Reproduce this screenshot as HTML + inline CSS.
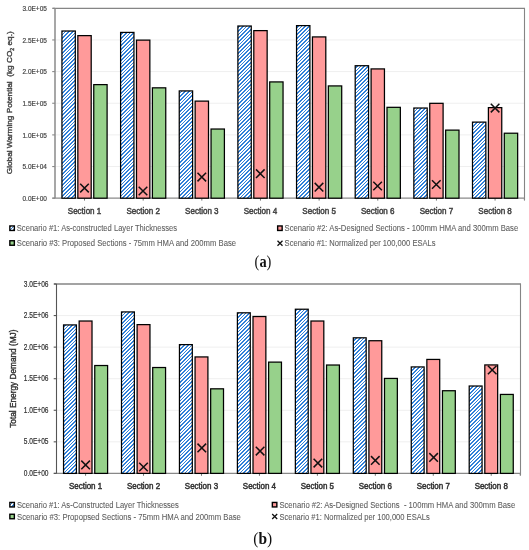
<!DOCTYPE html>
<html><head><meta charset="utf-8"><title>Figure</title>
<style>html,body{margin:0;padding:0;background:#fff;} svg{display:block;} text{font-family:"Liberation Sans", Arial, sans-serif;}</style>
</head><body>
<svg width="529" height="550" viewBox="0 0 529 550">
<defs><pattern id="hatch" x="0" y="0" width="11" height="11" patternUnits="userSpaceOnUse"><rect width="11" height="11" fill="#fff"/><path d="M0,0h1v1h-1zM1,0h1v1h-1zM4,0h1v1h-1zM5,0h1v1h-1zM8,0h1v1h-1zM0,1h1v1h-1zM3,1h1v1h-1zM4,1h1v1h-1zM7,1h1v1h-1zM10,1h1v1h-1zM2,2h1v1h-1zM3,2h1v1h-1zM6,2h1v1h-1zM9,2h1v1h-1zM10,2h1v1h-1zM1,3h1v1h-1zM2,3h1v1h-1zM5,3h1v1h-1zM8,3h1v1h-1zM9,3h1v1h-1zM0,4h1v1h-1zM1,4h1v1h-1zM4,4h1v1h-1zM7,4h1v1h-1zM8,4h1v1h-1zM0,5h1v1h-1zM3,5h1v1h-1zM6,5h1v1h-1zM7,5h1v1h-1zM10,5h1v1h-1zM2,6h1v1h-1zM5,6h1v1h-1zM6,6h1v1h-1zM9,6h1v1h-1zM10,6h1v1h-1zM1,7h1v1h-1zM4,7h1v1h-1zM5,7h1v1h-1zM8,7h1v1h-1zM9,7h1v1h-1zM0,8h1v1h-1zM3,8h1v1h-1zM4,8h1v1h-1zM7,8h1v1h-1zM8,8h1v1h-1zM2,9h1v1h-1zM3,9h1v1h-1zM6,9h1v1h-1zM7,9h1v1h-1zM10,9h1v1h-1zM1,10h1v1h-1zM2,10h1v1h-1zM5,10h1v1h-1zM6,10h1v1h-1zM9,10h1v1h-1z" fill="#3181da" shape-rendering="crispEdges"/></pattern></defs>
<rect width="529" height="550" fill="#fff"/>
<line x1="55.20" y1="39.95" x2="524.40" y2="39.95" stroke="#efefef" stroke-width="1"/>
<line x1="55.20" y1="71.60" x2="524.40" y2="71.60" stroke="#efefef" stroke-width="1"/>
<line x1="55.20" y1="103.25" x2="524.40" y2="103.25" stroke="#efefef" stroke-width="1"/>
<line x1="55.20" y1="134.90" x2="524.40" y2="134.90" stroke="#efefef" stroke-width="1"/>
<line x1="55.20" y1="166.55" x2="524.40" y2="166.55" stroke="#efefef" stroke-width="1"/>
<line x1="52.70" y1="8.30" x2="525.00" y2="8.30" stroke="#858585" stroke-width="1.3"/>
<line x1="524.50" y1="8.30" x2="524.50" y2="200.40" stroke="#858585" stroke-width="1.1"/>
<line x1="52.40" y1="198.20" x2="524.40" y2="198.20" stroke="#8a8a8a" stroke-width="1.3"/>
<line x1="84.53" y1="198.20" x2="84.53" y2="200.60" stroke="#666" stroke-width="0.9"/>
<line x1="143.18" y1="198.20" x2="143.18" y2="200.60" stroke="#666" stroke-width="0.9"/>
<line x1="201.82" y1="198.20" x2="201.82" y2="200.60" stroke="#666" stroke-width="0.9"/>
<line x1="260.48" y1="198.20" x2="260.48" y2="200.60" stroke="#666" stroke-width="0.9"/>
<line x1="319.12" y1="198.20" x2="319.12" y2="200.60" stroke="#666" stroke-width="0.9"/>
<line x1="377.77" y1="198.20" x2="377.77" y2="200.60" stroke="#666" stroke-width="0.9"/>
<line x1="436.42" y1="198.20" x2="436.42" y2="200.60" stroke="#666" stroke-width="0.9"/>
<line x1="495.07" y1="198.20" x2="495.07" y2="200.60" stroke="#666" stroke-width="0.9"/>
<line x1="524.40" y1="198.20" x2="524.40" y2="200.40" stroke="#858585" stroke-width="1"/>
<rect x="61.95" y="31.02" width="13.35" height="167.17" fill="url(#hatch)" stroke="#000" stroke-width="1.25"/>
<rect x="77.85" y="35.62" width="13.35" height="162.57" fill="#ff9a9a" stroke="#000" stroke-width="1.25"/>
<rect x="93.75" y="84.62" width="13.35" height="113.57" fill="#97d18b" stroke="#000" stroke-width="1.25"/>
<rect x="120.60" y="32.42" width="13.35" height="165.77" fill="url(#hatch)" stroke="#000" stroke-width="1.25"/>
<rect x="136.50" y="40.12" width="13.35" height="158.07" fill="#ff9a9a" stroke="#000" stroke-width="1.25"/>
<rect x="152.40" y="87.83" width="13.35" height="110.37" fill="#97d18b" stroke="#000" stroke-width="1.25"/>
<rect x="179.25" y="90.92" width="13.35" height="107.27" fill="url(#hatch)" stroke="#000" stroke-width="1.25"/>
<rect x="195.15" y="101.12" width="13.35" height="97.07" fill="#ff9a9a" stroke="#000" stroke-width="1.25"/>
<rect x="211.05" y="129.03" width="13.35" height="69.17" fill="#97d18b" stroke="#000" stroke-width="1.25"/>
<rect x="237.90" y="26.02" width="13.35" height="172.17" fill="url(#hatch)" stroke="#000" stroke-width="1.25"/>
<rect x="253.80" y="30.62" width="13.35" height="167.57" fill="#ff9a9a" stroke="#000" stroke-width="1.25"/>
<rect x="269.70" y="81.92" width="13.35" height="116.27" fill="#97d18b" stroke="#000" stroke-width="1.25"/>
<rect x="296.55" y="25.62" width="13.35" height="172.57" fill="url(#hatch)" stroke="#000" stroke-width="1.25"/>
<rect x="312.45" y="36.92" width="13.35" height="161.27" fill="#ff9a9a" stroke="#000" stroke-width="1.25"/>
<rect x="328.35" y="85.92" width="13.35" height="112.27" fill="#97d18b" stroke="#000" stroke-width="1.25"/>
<rect x="355.20" y="65.72" width="13.35" height="132.47" fill="url(#hatch)" stroke="#000" stroke-width="1.25"/>
<rect x="371.10" y="68.92" width="13.35" height="129.27" fill="#ff9a9a" stroke="#000" stroke-width="1.25"/>
<rect x="387.00" y="107.33" width="13.35" height="90.87" fill="#97d18b" stroke="#000" stroke-width="1.25"/>
<rect x="413.85" y="108.03" width="13.35" height="90.17" fill="url(#hatch)" stroke="#000" stroke-width="1.25"/>
<rect x="429.75" y="103.33" width="13.35" height="94.87" fill="#ff9a9a" stroke="#000" stroke-width="1.25"/>
<rect x="445.65" y="130.12" width="13.35" height="68.07" fill="#97d18b" stroke="#000" stroke-width="1.25"/>
<rect x="472.50" y="122.12" width="13.35" height="76.07" fill="url(#hatch)" stroke="#000" stroke-width="1.25"/>
<rect x="488.40" y="107.62" width="13.35" height="90.57" fill="#ff9a9a" stroke="#000" stroke-width="1.25"/>
<rect x="504.30" y="133.22" width="13.35" height="64.97" fill="#97d18b" stroke="#000" stroke-width="1.25"/>
<path d="M80.20,183.80L88.80,192.40M80.20,192.40L88.80,183.80" stroke="#111" stroke-width="1.5" fill="none"/>
<path d="M138.70,186.70L147.30,195.30M138.70,195.30L147.30,186.70" stroke="#111" stroke-width="1.5" fill="none"/>
<path d="M197.50,172.80L206.10,181.40M197.50,181.40L206.10,172.80" stroke="#111" stroke-width="1.5" fill="none"/>
<path d="M256.00,169.40L264.60,178.00M256.00,178.00L264.60,169.40" stroke="#111" stroke-width="1.5" fill="none"/>
<path d="M314.70,182.90L323.30,191.50M314.70,191.50L323.30,182.90" stroke="#111" stroke-width="1.5" fill="none"/>
<path d="M373.30,181.70L381.90,190.30M373.30,190.30L381.90,181.70" stroke="#111" stroke-width="1.5" fill="none"/>
<path d="M432.00,180.20L440.60,188.80M432.00,188.80L440.60,180.20" stroke="#111" stroke-width="1.5" fill="none"/>
<path d="M490.80,103.80L499.40,112.40M490.80,112.40L499.40,103.80" stroke="#111" stroke-width="1.5" fill="none"/>
<line x1="55.00" y1="8.30" x2="55.00" y2="198.20" stroke="#8a8a8a" stroke-width="1.5"/>
<line x1="52.20" y1="8.30" x2="55.00" y2="8.30" stroke="#8a8a8a" stroke-width="1.1"/>
<line x1="52.20" y1="39.95" x2="55.00" y2="39.95" stroke="#8a8a8a" stroke-width="1.1"/>
<line x1="52.20" y1="71.60" x2="55.00" y2="71.60" stroke="#8a8a8a" stroke-width="1.1"/>
<line x1="52.20" y1="103.25" x2="55.00" y2="103.25" stroke="#8a8a8a" stroke-width="1.1"/>
<line x1="52.20" y1="134.90" x2="55.00" y2="134.90" stroke="#8a8a8a" stroke-width="1.1"/>
<line x1="52.20" y1="166.55" x2="55.00" y2="166.55" stroke="#8a8a8a" stroke-width="1.1"/>
<line x1="52.20" y1="198.20" x2="55.00" y2="198.20" stroke="#8a8a8a" stroke-width="1.1"/>
<text x="46.90" y="10.90" text-anchor="end" font-size="7.9" fill="#444" stroke="#444" stroke-width="0.2" textLength="24.40" lengthAdjust="spacingAndGlyphs">3.0E+05</text>
<text x="46.90" y="42.55" text-anchor="end" font-size="7.9" fill="#444" stroke="#444" stroke-width="0.2" textLength="24.40" lengthAdjust="spacingAndGlyphs">2.5E+05</text>
<text x="46.90" y="74.20" text-anchor="end" font-size="7.9" fill="#444" stroke="#444" stroke-width="0.2" textLength="24.40" lengthAdjust="spacingAndGlyphs">2.0E+05</text>
<text x="46.90" y="105.85" text-anchor="end" font-size="7.9" fill="#444" stroke="#444" stroke-width="0.2" textLength="24.40" lengthAdjust="spacingAndGlyphs">1.5E+05</text>
<text x="46.90" y="137.50" text-anchor="end" font-size="7.9" fill="#444" stroke="#444" stroke-width="0.2" textLength="24.40" lengthAdjust="spacingAndGlyphs">1.0E+05</text>
<text x="46.90" y="169.15" text-anchor="end" font-size="7.9" fill="#444" stroke="#444" stroke-width="0.2" textLength="24.40" lengthAdjust="spacingAndGlyphs">5.0E+04</text>
<text x="46.90" y="200.80" text-anchor="end" font-size="7.9" fill="#444" stroke="#444" stroke-width="0.2" textLength="24.40" lengthAdjust="spacingAndGlyphs">0.0E+00</text>
<text x="84.53" y="213.50" text-anchor="middle" font-size="9.0" fill="#444" stroke="#444" stroke-width="0.5" textLength="33.50" lengthAdjust="spacingAndGlyphs">Section 1</text>
<text x="143.18" y="213.50" text-anchor="middle" font-size="9.0" fill="#444" stroke="#444" stroke-width="0.5" textLength="33.50" lengthAdjust="spacingAndGlyphs">Section 2</text>
<text x="201.82" y="213.50" text-anchor="middle" font-size="9.0" fill="#444" stroke="#444" stroke-width="0.5" textLength="33.50" lengthAdjust="spacingAndGlyphs">Section 3</text>
<text x="260.48" y="213.50" text-anchor="middle" font-size="9.0" fill="#444" stroke="#444" stroke-width="0.5" textLength="33.50" lengthAdjust="spacingAndGlyphs">Section 4</text>
<text x="319.12" y="213.50" text-anchor="middle" font-size="9.0" fill="#444" stroke="#444" stroke-width="0.5" textLength="33.50" lengthAdjust="spacingAndGlyphs">Section 5</text>
<text x="377.77" y="213.50" text-anchor="middle" font-size="9.0" fill="#444" stroke="#444" stroke-width="0.5" textLength="33.50" lengthAdjust="spacingAndGlyphs">Section 6</text>
<text x="436.42" y="213.50" text-anchor="middle" font-size="9.0" fill="#444" stroke="#444" stroke-width="0.5" textLength="33.50" lengthAdjust="spacingAndGlyphs">Section 7</text>
<text x="495.07" y="213.50" text-anchor="middle" font-size="9.0" fill="#444" stroke="#444" stroke-width="0.5" textLength="33.50" lengthAdjust="spacingAndGlyphs">Section 8</text>
<text transform="translate(12.20,174.20) rotate(-90)" x="0" y="0" font-size="8.1" fill="#444" stroke="#444" stroke-width="0.38" textLength="142.90" lengthAdjust="spacingAndGlyphs">Global Warming Potential &#160;(kg CO<tspan font-size="5.2" dy="1.6">2</tspan><tspan dy="-1.6"> eq.)</tspan></text>
<rect x="9.85" y="225.95" width="4.5" height="4.5" fill="url(#hatch)" stroke="#000" stroke-width="1.4"/>
<text x="16.80" y="231.40" font-size="8.6" fill="#5e5e5e" stroke="#5e5e5e" stroke-width="0.08" textLength="160.30" lengthAdjust="spacingAndGlyphs">Scenario #1: As-constructed Layer Thicknesses</text>
<rect x="9.85" y="240.75" width="4.5" height="4.5" fill="#97d18b" stroke="#000" stroke-width="1.4"/>
<text x="16.80" y="246.10" font-size="8.6" fill="#5e5e5e" stroke="#5e5e5e" stroke-width="0.08" textLength="219.30" lengthAdjust="spacingAndGlyphs">Scenario #3: Proposed Sections - 75mm HMA and 200mm Base</text>
<rect x="277.65" y="225.95" width="4.5" height="4.5" fill="#ff9a9a" stroke="#000" stroke-width="1.4"/>
<text x="284.60" y="231.40" font-size="8.6" fill="#5e5e5e" stroke="#5e5e5e" stroke-width="0.08" textLength="233.60" lengthAdjust="spacingAndGlyphs">Scenario #2: As-Designed Sections - 100mm HMA and 300mm Base</text>
<path d="M277.50,240.70L282.50,245.70M277.50,245.70L282.50,240.70" stroke="#111" stroke-width="1.3" fill="none"/>
<text x="284.60" y="246.10" font-size="8.6" fill="#5e5e5e" stroke="#5e5e5e" stroke-width="0.08" textLength="151.00" lengthAdjust="spacingAndGlyphs">Scenario #1: Normalized per 100,000 ESALs</text>
<line x1="56.60" y1="315.57" x2="520.20" y2="315.57" stroke="#efefef" stroke-width="1"/>
<line x1="56.60" y1="347.13" x2="520.20" y2="347.13" stroke="#efefef" stroke-width="1"/>
<line x1="56.60" y1="378.70" x2="520.20" y2="378.70" stroke="#efefef" stroke-width="1"/>
<line x1="56.60" y1="410.27" x2="520.20" y2="410.27" stroke="#efefef" stroke-width="1"/>
<line x1="56.60" y1="441.83" x2="520.20" y2="441.83" stroke="#efefef" stroke-width="1"/>
<line x1="54.10" y1="284.00" x2="521.00" y2="284.00" stroke="#858585" stroke-width="1.3"/>
<line x1="520.50" y1="284.00" x2="520.50" y2="475.60" stroke="#858585" stroke-width="1.1"/>
<line x1="53.80" y1="473.40" x2="520.20" y2="473.40" stroke="#888" stroke-width="1.3"/>
<line x1="85.58" y1="473.40" x2="85.58" y2="475.80" stroke="#666" stroke-width="0.9"/>
<line x1="143.53" y1="473.40" x2="143.53" y2="475.80" stroke="#666" stroke-width="0.9"/>
<line x1="201.47" y1="473.40" x2="201.47" y2="475.80" stroke="#666" stroke-width="0.9"/>
<line x1="259.43" y1="473.40" x2="259.43" y2="475.80" stroke="#666" stroke-width="0.9"/>
<line x1="317.38" y1="473.40" x2="317.38" y2="475.80" stroke="#666" stroke-width="0.9"/>
<line x1="375.33" y1="473.40" x2="375.33" y2="475.80" stroke="#666" stroke-width="0.9"/>
<line x1="433.28" y1="473.40" x2="433.28" y2="475.80" stroke="#666" stroke-width="0.9"/>
<line x1="491.23" y1="473.40" x2="491.23" y2="475.80" stroke="#666" stroke-width="0.9"/>
<line x1="520.20" y1="473.40" x2="520.20" y2="475.60" stroke="#858585" stroke-width="1"/>
<rect x="63.55" y="324.93" width="12.85" height="148.47" fill="url(#hatch)" stroke="#000" stroke-width="1.25"/>
<rect x="79.16" y="321.02" width="12.85" height="152.38" fill="#ff9a9a" stroke="#000" stroke-width="1.25"/>
<rect x="94.75" y="365.52" width="12.85" height="107.88" fill="#97d18b" stroke="#000" stroke-width="1.25"/>
<rect x="121.51" y="311.93" width="12.85" height="161.47" fill="url(#hatch)" stroke="#000" stroke-width="1.25"/>
<rect x="137.11" y="324.62" width="12.85" height="148.77" fill="#ff9a9a" stroke="#000" stroke-width="1.25"/>
<rect x="152.71" y="367.52" width="12.85" height="105.88" fill="#97d18b" stroke="#000" stroke-width="1.25"/>
<rect x="179.46" y="344.62" width="12.85" height="128.77" fill="url(#hatch)" stroke="#000" stroke-width="1.25"/>
<rect x="195.06" y="356.93" width="12.85" height="116.47" fill="#ff9a9a" stroke="#000" stroke-width="1.25"/>
<rect x="210.66" y="388.82" width="12.85" height="84.57" fill="#97d18b" stroke="#000" stroke-width="1.25"/>
<rect x="237.41" y="312.82" width="12.85" height="160.57" fill="url(#hatch)" stroke="#000" stroke-width="1.25"/>
<rect x="253.01" y="316.52" width="12.85" height="156.88" fill="#ff9a9a" stroke="#000" stroke-width="1.25"/>
<rect x="268.61" y="362.12" width="12.85" height="111.27" fill="#97d18b" stroke="#000" stroke-width="1.25"/>
<rect x="295.36" y="309.23" width="12.85" height="164.17" fill="url(#hatch)" stroke="#000" stroke-width="1.25"/>
<rect x="310.96" y="321.02" width="12.85" height="152.38" fill="#ff9a9a" stroke="#000" stroke-width="1.25"/>
<rect x="326.56" y="365.02" width="12.85" height="108.38" fill="#97d18b" stroke="#000" stroke-width="1.25"/>
<rect x="353.31" y="337.82" width="12.85" height="135.57" fill="url(#hatch)" stroke="#000" stroke-width="1.25"/>
<rect x="368.91" y="340.73" width="12.85" height="132.67" fill="#ff9a9a" stroke="#000" stroke-width="1.25"/>
<rect x="384.50" y="378.43" width="12.85" height="94.97" fill="#97d18b" stroke="#000" stroke-width="1.25"/>
<rect x="411.26" y="366.93" width="12.85" height="106.47" fill="url(#hatch)" stroke="#000" stroke-width="1.25"/>
<rect x="426.86" y="359.43" width="12.85" height="113.97" fill="#ff9a9a" stroke="#000" stroke-width="1.25"/>
<rect x="442.46" y="390.73" width="12.85" height="82.67" fill="#97d18b" stroke="#000" stroke-width="1.25"/>
<rect x="469.21" y="386.02" width="12.85" height="87.38" fill="url(#hatch)" stroke="#000" stroke-width="1.25"/>
<rect x="484.81" y="364.93" width="12.85" height="108.47" fill="#ff9a9a" stroke="#000" stroke-width="1.25"/>
<rect x="500.41" y="394.43" width="12.85" height="78.97" fill="#97d18b" stroke="#000" stroke-width="1.25"/>
<path d="M81.30,460.60L89.90,469.20M81.30,469.20L89.90,460.60" stroke="#111" stroke-width="1.5" fill="none"/>
<path d="M139.20,462.70L147.80,471.30M139.20,471.30L147.80,462.70" stroke="#111" stroke-width="1.5" fill="none"/>
<path d="M197.50,443.60L206.10,452.20M197.50,452.20L206.10,443.60" stroke="#111" stroke-width="1.5" fill="none"/>
<path d="M255.80,446.80L264.40,455.40M255.80,455.40L264.40,446.80" stroke="#111" stroke-width="1.5" fill="none"/>
<path d="M313.60,458.80L322.20,467.40M313.60,467.40L322.20,458.80" stroke="#111" stroke-width="1.5" fill="none"/>
<path d="M371.00,456.10L379.60,464.70M371.00,464.70L379.60,456.10" stroke="#111" stroke-width="1.5" fill="none"/>
<path d="M429.30,453.10L437.90,461.70M429.30,461.70L437.90,453.10" stroke="#111" stroke-width="1.5" fill="none"/>
<path d="M487.90,365.70L496.50,374.30M487.90,374.30L496.50,365.70" stroke="#111" stroke-width="1.5" fill="none"/>
<line x1="56.50" y1="284.00" x2="56.50" y2="473.40" stroke="#555" stroke-width="1.1"/>
<line x1="53.70" y1="284.00" x2="56.50" y2="284.00" stroke="#555" stroke-width="1.1"/>
<line x1="53.70" y1="315.57" x2="56.50" y2="315.57" stroke="#555" stroke-width="1.1"/>
<line x1="53.70" y1="347.13" x2="56.50" y2="347.13" stroke="#555" stroke-width="1.1"/>
<line x1="53.70" y1="378.70" x2="56.50" y2="378.70" stroke="#555" stroke-width="1.1"/>
<line x1="53.70" y1="410.27" x2="56.50" y2="410.27" stroke="#555" stroke-width="1.1"/>
<line x1="53.70" y1="441.83" x2="56.50" y2="441.83" stroke="#555" stroke-width="1.1"/>
<line x1="53.70" y1="473.40" x2="56.50" y2="473.40" stroke="#555" stroke-width="1.1"/>
<text x="48.50" y="286.50" text-anchor="end" font-size="8.2" fill="#333" stroke="#333" stroke-width="0.2" textLength="24.70" lengthAdjust="spacingAndGlyphs">3.0E+06</text>
<text x="48.50" y="318.07" text-anchor="end" font-size="8.2" fill="#333" stroke="#333" stroke-width="0.2" textLength="24.70" lengthAdjust="spacingAndGlyphs">2.5E+06</text>
<text x="48.50" y="349.63" text-anchor="end" font-size="8.2" fill="#333" stroke="#333" stroke-width="0.2" textLength="24.70" lengthAdjust="spacingAndGlyphs">2.0E+06</text>
<text x="48.50" y="381.20" text-anchor="end" font-size="8.2" fill="#333" stroke="#333" stroke-width="0.2" textLength="24.70" lengthAdjust="spacingAndGlyphs">1.5E+06</text>
<text x="48.50" y="412.77" text-anchor="end" font-size="8.2" fill="#333" stroke="#333" stroke-width="0.2" textLength="24.70" lengthAdjust="spacingAndGlyphs">1.0E+06</text>
<text x="48.50" y="444.33" text-anchor="end" font-size="8.2" fill="#333" stroke="#333" stroke-width="0.2" textLength="24.70" lengthAdjust="spacingAndGlyphs">5.0E+05</text>
<text x="48.50" y="475.90" text-anchor="end" font-size="8.2" fill="#333" stroke="#333" stroke-width="0.2" textLength="24.70" lengthAdjust="spacingAndGlyphs">0.0E+00</text>
<text x="85.58" y="489.10" text-anchor="middle" font-size="9.0" fill="#333" stroke="#333" stroke-width="0.5" textLength="33.20" lengthAdjust="spacingAndGlyphs">Section 1</text>
<text x="143.53" y="489.10" text-anchor="middle" font-size="9.0" fill="#333" stroke="#333" stroke-width="0.5" textLength="33.20" lengthAdjust="spacingAndGlyphs">Section 2</text>
<text x="201.47" y="489.10" text-anchor="middle" font-size="9.0" fill="#333" stroke="#333" stroke-width="0.5" textLength="33.20" lengthAdjust="spacingAndGlyphs">Section 3</text>
<text x="259.43" y="489.10" text-anchor="middle" font-size="9.0" fill="#333" stroke="#333" stroke-width="0.5" textLength="33.20" lengthAdjust="spacingAndGlyphs">Section 4</text>
<text x="317.38" y="489.10" text-anchor="middle" font-size="9.0" fill="#333" stroke="#333" stroke-width="0.5" textLength="33.20" lengthAdjust="spacingAndGlyphs">Section 5</text>
<text x="375.33" y="489.10" text-anchor="middle" font-size="9.0" fill="#333" stroke="#333" stroke-width="0.5" textLength="33.20" lengthAdjust="spacingAndGlyphs">Section 6</text>
<text x="433.28" y="489.10" text-anchor="middle" font-size="9.0" fill="#333" stroke="#333" stroke-width="0.5" textLength="33.20" lengthAdjust="spacingAndGlyphs">Section 7</text>
<text x="491.23" y="489.10" text-anchor="middle" font-size="9.0" fill="#333" stroke="#333" stroke-width="0.5" textLength="33.20" lengthAdjust="spacingAndGlyphs">Section 8</text>
<text transform="translate(16.40,427.80) rotate(-90)" x="0" y="0" font-size="8.3" fill="#333" stroke="#333" stroke-width="0.38" textLength="98.30" lengthAdjust="spacingAndGlyphs">Total Energy Demand (MJ)</text>
<rect x="9.85" y="502.45" width="4.5" height="4.5" fill="url(#hatch)" stroke="#000" stroke-width="1.4"/>
<text x="17.00" y="507.90" font-size="8.9" fill="#5e5e5e" stroke="#5e5e5e" stroke-width="0.08" textLength="161.80" lengthAdjust="spacingAndGlyphs">Scenario #1: As-Constructed Layer Thicknesses</text>
<rect x="9.85" y="514.25" width="4.5" height="4.5" fill="#97d18b" stroke="#000" stroke-width="1.4"/>
<text x="17.00" y="519.70" font-size="8.9" fill="#5e5e5e" stroke="#5e5e5e" stroke-width="0.08" textLength="223.90" lengthAdjust="spacingAndGlyphs">Scenario #3: Propopsed Sections - 75mm HMA and 200mm Base</text>
<rect x="272.35" y="502.45" width="4.5" height="4.5" fill="#ff9a9a" stroke="#000" stroke-width="1.4"/>
<text x="279.40" y="507.90" font-size="8.9" fill="#5e5e5e" stroke="#5e5e5e" stroke-width="0.08" textLength="235.80" lengthAdjust="spacingAndGlyphs">Scenario #2: As-Designed Sections &#160;- 100mm HMA and 300mm Base</text>
<path d="M272.20,514.00L277.20,519.00M272.20,519.00L277.20,514.00" stroke="#111" stroke-width="1.3" fill="none"/>
<text x="279.40" y="519.70" font-size="8.9" fill="#5e5e5e" stroke="#5e5e5e" stroke-width="0.08" textLength="150.30" lengthAdjust="spacingAndGlyphs">Scenario #1: Normalized per 100,000 ESALs</text>
<text x="263" y="267.4" text-anchor="middle" style='font-family:"Liberation Serif", "Times New Roman", serif' font-size="16.3" fill="#111" textLength="16.8" lengthAdjust="spacingAndGlyphs">(<tspan font-weight="bold">a</tspan>)</text>
<text x="262.7" y="544.1" text-anchor="middle" style='font-family:"Liberation Serif", "Times New Roman", serif' font-size="16.3" fill="#111" textLength="18.9" lengthAdjust="spacingAndGlyphs">(<tspan font-weight="bold">b</tspan>)</text>
</svg>
</body></html>
